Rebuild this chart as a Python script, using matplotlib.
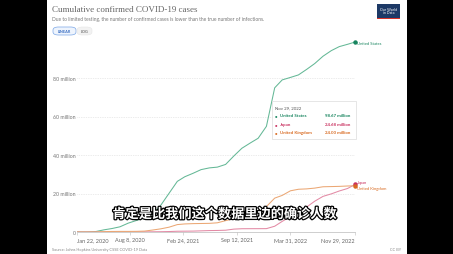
import matplotlib
matplotlib.use('Agg')
import matplotlib.pyplot as plt
import matplotlib.patheffects as pe
from matplotlib.patches import Rectangle, FancyBboxPatch
import pandas as pd

# ---------------- data (millions of cumulative confirmed cases) ----------------
dates = ["2020-01-22", "2020-03-01", "2020-04-01", "2020-05-01", "2020-06-01", "2020-07-01",
         "2020-08-01", "2020-09-01", "2020-10-01", "2020-11-01", "2020-12-01", "2021-01-01",
         "2021-02-01", "2021-03-01", "2021-04-01", "2021-05-01", "2021-06-01", "2021-07-01",
         "2021-08-01", "2021-09-01", "2021-10-01", "2021-11-01", "2021-12-01", "2022-01-01",
         "2022-02-01", "2022-03-01", "2022-04-01", "2022-05-01", "2022-06-01", "2022-07-01",
         "2022-08-01", "2022-09-01", "2022-10-01", "2022-11-01", "2022-11-29"]
us = [0.0, 0.0, 0.22, 1.1, 1.8, 2.7, 4.6, 6.0, 7.3, 9.2, 13.9, 20.1, 26.3, 28.7, 30.5, 32.4,
      33.3, 33.7, 35.1, 39.5, 43.5, 46.2, 48.7, 54.9, 74.9, 79.0, 80.3, 81.6, 84.5, 87.5,
      91.3, 94.2, 96.3, 97.5, 98.67]
japan = [0.0, 0.0, 0.002, 0.014, 0.017, 0.019, 0.037, 0.068, 0.083, 0.101, 0.148, 0.236,
         0.39, 0.43, 0.47, 0.6, 0.74, 0.8, 0.93, 1.5, 1.7, 1.72, 1.73, 1.75, 3.0, 5.5, 8.0,
         10.5, 13.0, 16.0, 18.5, 19.8, 21.3, 22.6, 24.68]
uk = [0.0, 0.0, 0.03, 0.18, 0.28, 0.31, 0.31, 0.34, 0.47, 1.03, 1.64, 2.5, 3.85, 4.19, 4.35,
      4.42, 4.49, 4.78, 5.9, 6.9, 7.9, 9.2, 10.3, 13.2, 17.6, 19.0, 21.4, 22.2, 22.4, 22.8,
      23.5, 23.6, 23.7, 23.9, 24.0]
series_names = ["United States", "Japan", "United Kingdom"]
x_ticks = ["2020-01-22", "2020-08-08", "2021-02-24", "2021-09-12", "2022-03-31", "2022-11-29"]
x_tick_labels = ["Jan 22, 2020", "Aug 8, 2020", "Feb 24, 2021", "Sep 12, 2021",
                 "Mar 31, 2022", "Nov 29, 2022"]
y_ticks = [0, 20, 40, 60, 80]
y_tick_labels = ["0", "20 million", "40 million", "60 million", "80 million"]
tooltip_date = "Nov 29, 2022"
tooltip_values = ["98.67 million", "24.68 million", "24.00 million"]

# ---------------- figure ----------------
W, H = 453, 255
fig = plt.figure(figsize=(W / 100, H / 100), dpi=100, facecolor='black')


def fx(x):
    return x / W


def fy(y):
    return 1 - y / H


fig.patches.append(Rectangle((fx(47), 0), fx(407) - fx(47), 1, transform=fig.transFigure,
                             facecolor='white', edgecolor='none', zorder=-5))

FONT = ['Lato', 'DejaVu Sans']
c_us, c_jp, c_uk = '#64b896', '#e38aa5', '#eba774'
c_us_d, c_jp_d, c_uk_d = '#18855f', '#c9305f', '#d8691f'

ax = fig.add_axes([fx(77), fy(233), fx(355) - fx(77), fy(40.5) - fy(233)])
ax.set_facecolor('none')
d = pd.to_datetime(dates)
for vals, c in [(us, c_us), (japan, c_jp), (uk, c_uk)]:
    ax.plot(d, vals, color=c, lw=0.75, solid_capstyle='round', solid_joinstyle='round', zorder=3)
end = d[-1]
ax.plot([end], [us[-1]], 'o', ms=2.2, color=c_us_d, zorder=5, clip_on=False)
ax.plot([end], [japan[-1]], 'o', ms=2.2, color=c_jp_d, zorder=5, clip_on=False)
ax.plot([end], [uk[-1]], 'o', ms=2.2, color=c_uk_d, zorder=6, clip_on=False)
ax.axvline(end, color='#e3e3e3', lw=0.5, zorder=1)

ax.set_xlim(pd.Timestamp(dates[0]), pd.Timestamp(dates[-1]))
ax.set_ylim(0, 100)
ax.set_yticks(y_ticks)
ax.set_yticklabels(y_tick_labels, fontsize=3.8, color='#777', family=FONT)
ax.set_xticks(pd.to_datetime(x_ticks))
ax.set_xticklabels(x_tick_labels, fontsize=4, color='#666', family=FONT)
lbls = ax.get_xticklabels()
lbls[0].set_ha('left')
lbls[-1].set_ha('right')
ax.tick_params(axis='y', length=0, pad=1)
ax.tick_params(axis='x', length=2, width=0.4, color='#bbb', pad=1.5)
for s in ['top', 'right', 'left']:
    ax.spines[s].set_visible(False)
ax.spines['bottom'].set_color('#bbb')
ax.spines['bottom'].set_linewidth(0.5)
ax.yaxis.grid(True, linestyle=(0, (1, 1.5)), color='#d8d8d8', lw=0.5)
ax.set_axisbelow(True)

# line end labels
fig.text(fx(357), fy(44), series_names[0], fontsize=3, color=c_us_d, family=FONT, va='center')
fig.text(fx(357), fy(183), series_names[1], fontsize=3, color=c_jp_d, family=FONT, va='center')
fig.text(fx(357), fy(189), series_names[2], fontsize=3, color=c_uk_d, family=FONT, va='center')

# title and subtitle
fig.text(fx(52), fy(9.5), "Cumulative confirmed COVID-19 cases", fontsize=6.5, color='#666',
         family=['Liberation Serif', 'DejaVu Serif'], va='center')
fig.text(fx(52), fy(19.5),
         "Due to limited testing, the number of confirmed cases is lower than the true number of infections.",
         fontsize=3.5, color='#777', family=FONT, va='center')

# linear/log buttons
fig.patches.append(FancyBboxPatch((fx(53), fy(36)), fx(76) - fx(53), fy(28) - fy(36),
                                  boxstyle='round,pad=0,rounding_size=0.012',
                                  transform=fig.transFigure, facecolor='#eef4fd',
                                  edgecolor='#7aa6e6', lw=0.5, zorder=2))
fig.text(fx(64.5), fy(32), "LINEAR", fontsize=2.8, color='#3b6fc2', family=FONT,
         ha='center', va='center', weight='bold')
fig.patches.append(FancyBboxPatch((fx(77), fy(36)), fx(92) - fx(77), fy(28) - fy(36),
                                  boxstyle='round,pad=0,rounding_size=0.012',
                                  transform=fig.transFigure, facecolor='#f2f2f2',
                                  edgecolor='#e6e6e6', lw=0.4, zorder=2))
fig.text(fx(84.5), fy(32), "LOG", fontsize=2.8, color='#777', family=FONT,
         ha='center', va='center', weight='bold')

# logo
fig.patches.append(Rectangle((fx(377), fy(19)), fx(400) - fx(377), fy(5) - fy(19),
                             transform=fig.transFigure, facecolor='#1d3966', edgecolor='none', zorder=2))
fig.patches.append(Rectangle((fx(377), fy(20)), fx(400) - fx(377), fy(18.5) - fy(20),
                             transform=fig.transFigure, facecolor='#d8342a', edgecolor='none', zorder=2))
fig.text(fx(388.5), fy(11.5), "Our World\nin Data", fontsize=2.6, color='white', family=FONT,
         ha='center', va='center', linespacing=0.95, zorder=3)

# tooltip
fig.patches.append(Rectangle((fx(272), fy(140)), fx(356) - fx(272), fy(102) - fy(140),
                             transform=fig.transFigure, facecolor='white', edgecolor='#dcdcdc',
                             lw=0.5, zorder=8))
fig.text(fx(275), fy(108), tooltip_date, fontsize=3.2, color='#555', family=FONT,
         va='center', zorder=9)
for i, (nm, val, c) in enumerate(zip(series_names, tooltip_values, [c_us_d, c_jp_d, c_uk_d])):
    yy = 116.5 + i * 8.3
    fig.text(fx(276.5), fy(yy), "\u25CF", fontsize=3, color=c, family=FONT,
             ha='center', va='center', zorder=9)
    fig.text(fx(280), fy(yy), nm, fontsize=3.2, color=c, family=FONT, va='center',
             zorder=9, weight='bold')
    fig.text(fx(350), fy(yy), val, fontsize=3.2, color=c, family=FONT, va='center',
             ha='right', zorder=9, weight='bold')

# footer
fig.text(fx(52), fy(250), "Source: Johns Hopkins University CSSE COVID-19 Data", fontsize=2.8,
         color='#888', family=FONT, va='center')
fig.text(fx(401), fy(250), "CC BY", fontsize=2.8, color='#888', family=FONT, va='center',
         ha='right')

# video subtitle
fig.text(fx(225), fy(215), "肯定是比我们这个数据里边的确诊人数", fontsize=9.5,
         family=['Noto Sans CJK SC', 'DejaVu Sans'], weight='bold', color='white',
         ha='center', va='center', zorder=20,
         path_effects=[pe.withStroke(linewidth=1.8, foreground='black')])

fig.savefig('out.png', dpi=100, facecolor='black')
